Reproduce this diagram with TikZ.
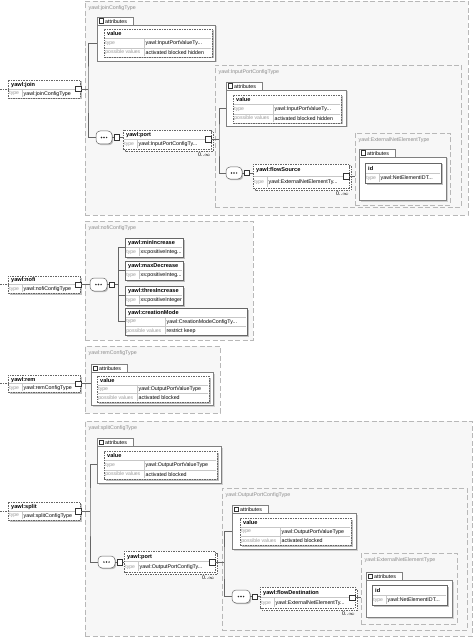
\documentclass[tikz,border=0pt]{standalone}
\usepackage{fontspec}
\setmainfont{Liberation Sans}
\usetikzlibrary{fit}
\newif\ifstk
\tikzset{
 tbox/.style={draw=black!28, dash pattern=on 5pt off 2.5pt, fill=black!3, line width=0.5pt},
 tlabel/.style={font=\fontsize{5.3}{6}\selectfont, text=black!45, inner sep=0pt, anchor=west},
 optel/.style={draw=black!60, dash pattern=on 1.5pt off 1pt, fill=white, line width=0.45pt},
 reqel/.style={draw=black!60, fill=white, line width=0.5pt},
 shadowc/.style={fill=black!25},
 nm/.style={font=\bfseries\fontsize{5.6}{6}\selectfont, inner sep=0pt, anchor=west},
 tt/.style={font=\fontsize{5.3}{6}\selectfont, inner sep=0pt, anchor=west},
 gl/.style={font=\fontsize{5.1}{6}\selectfont, text=black!40, inner sep=0pt, anchor=west},
 cell/.style={draw=black!22, line width=0.3pt},
 abox/.style={draw=black!50, fill=white, line width=0.5pt},
 conn/.style={draw=black!60, line width=0.5pt},
 rootln/.style={draw=black!60, line width=0.5pt, dash pattern=on 1.5pt off 1pt},
 xsq/.style={draw=black!80, fill=white, line width=0.5pt, minimum size=5.5pt, inner sep=0pt},
 mult/.style={font=\fontsize{5.3}{6}\selectfont, inner sep=0pt},
}
% two-row element: style, id, x1,y1,x2,y2, title, type
\newcommand\elemtwo[8][optel]{%
 \pgfmathsetmacro\ym{(#4+#6)/2}%
 \pgfmathsetmacro\yt{(#4+\ym)/2+0.3}%
 \pgfmathsetmacro\yb{(\ym+#6)/2+0.3}%
 \pgfmathsetmacro\xd{#3+14}%
 \fill[shadowc] (#3+1.5,#4+1.5) rectangle (#5+1.5,#6+1.5);
 \ifstk \draw[optel] (#3+2,#4+2.5) rectangle (#5+2,#6+2.5); \fi
 \node[#1, fit={(#3,#4) (#5,#6)}, inner sep=0pt] (#2) {};
 \draw[cell] (#3+1,\ym) -- (#5-1,\ym) (\xd,\ym) -- (\xd,#6-1);
 \node[nm] (#2-n) at (#3+3,\yt) {#7};
 \node[gl] (#2-tl) at (#3+1.2,\yb) {type};
 \node[tt] (#2-tv) at (\xd+1.5,\yb) {#8};
}
% three-row element: style, id, x1,y1,x2,y2, title, type, possible values
\newcommand\elemthree[9][optel]{%
 \pgfmathsetmacro\ya{#4+(#6-#4)/3}%
 \pgfmathsetmacro\yc{#4+2*(#6-#4)/3}%
 \pgfmathsetmacro\yt{(#4+\ya)/2+0.3}%
 \pgfmathsetmacro\yb{(\ya+\yc)/2+0.3}%
 \pgfmathsetmacro\yp{(\yc+#6)/2+0.3}%
 \pgfmathsetmacro\xd{#3+40}%
 \fill[shadowc] (#3+1.5,#4+1.5) rectangle (#5+1.5,#6+1.5);
 \node[#1, fit={(#3,#4) (#5,#6)}, inner sep=0pt] (#2) {};
 \draw[cell] (#3+1,\ya) -- (#5-1,\ya) (#3+1,\yc) -- (#5-1,\yc) (\xd,\ya) -- (\xd,#6-1);
 \node[nm] (#2-n) at (#3+3,\yt) {#7};
 \node[gl] (#2-tl) at (#3+1.2,\yb) {type};
 \node[tt] (#2-tv) at (\xd+1.5,\yb) {#8};
 \node[gl] (#2-pl) at (#3+1.2,\yp) {possible values};
 \node[tt] (#2-pv) at (\xd+1.5,\yp) {#9};
}
% attributes group: id, x1,y1,x2,y2
\newcommand\attrb[5]{%
 \fill[black!18] (#2+1.5,#3+1.5) rectangle (#4+1.5,#5+1.5);
 \draw[abox] (#2,#3-8) rectangle (#2+36,#3);
 \node[abox, fit={(#2,#3) (#4,#5)}, inner sep=0pt] (#1) {};
 \node[xsq, minimum size=4.5pt] (#1-cb) at (#2+4,#3-4) {};
 \node[tt] (#1-lb) at (#2+8,#3-3.8) {attributes};
}
% type group box: id, x1,y1,x2,y2, label
\newcommand\tgroup[6]{%
 \node[tbox, fit={(#2,#3) (#4,#5)}, inner sep=0pt] (#1) {};
 \node[tlabel] (#1-lb) at (#2+3.5,#3+7) {#6};
}
% sequence compositor: id, x1,y1,x2,y2
\newcommand\seqc[5]{%
 \fill[black!25, rounded corners=4pt] (#2+1.2,#3+1.2) rectangle (#4+1.2,#5+1.2);
 \node[draw=black!60, fill=white, line width=0.5pt, rounded corners=4pt, fit={(#2,#3) (#4,#5)}, inner sep=0pt] (#1) {};
 \foreach \d in {-2.6,0,2.6} \fill[black!85] (#1.center) ++(\d,0) circle (0.85);
 \node[xsq] (#1x) at (#4+4.5,{(#3+#5)/2}) {};
 \draw[conn] (#1.east) -- (#1x.west);
}
\begin{document}
\begin{tikzpicture}[x=1pt,y=-1pt]
\useasboundingbox (0,0) rectangle (474,639);
\fill[white] (0,0) rectangle (474,639);

% ================= join =================
\tgroup{jtype}{85}{1}{468}{215}{yawl:joinConfigType}
\tgroup{iptype}{215}{65}{461}{207}{yawl:InputPortConfigType}
\tgroup{ext1}{355}{133}{450}{205}{yawl:ExternalNetElementType}

\coordinate (jl) at (0,89);
\elemtwo{join}{8}{80}{80}{98}{yawl:join}{yawl:joinConfigType}
\node[xsq] (joinx) at (78,89) {};
\draw[rootln] (jl) -- (join.west);

\attrb{jattr}{97}{25}{215}{61}
\elemthree{jval}{104}{29}{212}{57}{value}{yawl:InputPortValueTy...}{activated blocked hidden}

\seqc{jseq}{96}{131}{112}{144}
\stktrue
\elemtwo{jport}{123}{130}{211}{149}{yawl:port}{yawl:InputPortConfigTy...}
\stkfalse
\node[xsq] (jportx) at (208,139.5) {};
\node[mult, anchor=north east] (jm) at (211,152.5) {0..$\infty$};

\coordinate (jb) at (88,89);
\draw[conn] (joinx.east) -- (jb);
\draw[conn] (jattr.west) -| (jb) |- (jseq.west);
\draw[conn] (jseqx.east) -- (jseqx.east -| jport.west);

\attrb{ipattr}{226}{90}{346}{126}
\elemthree{ipval}{233}{95}{341}{123}{value}{yawl:InputPortValueTy...}{activated blocked hidden}
\seqc{ipseq}{226}{167}{242}{179}
\stktrue
\elemtwo{fsrc}{253}{164}{349}{188}{yawl:flowSource}{yawl:ExternalNetElementTy...}
\stkfalse
\node[xsq] (fsrcx) at (346,176) {};
\node[mult, anchor=north east] (fsm) at (349,191.5) {0..$\infty$};

\coordinate (jpb) at (219,139.5);
\draw[conn] (jportx.east) -- (jpb);
\draw[conn] (ipattr.west) -| (jpb) |- (ipseq.west);
\draw[conn] (ipseqx.east) -- (ipseqx.east -| fsrc.west);
\draw[conn] (fsrcx.east) -- (fsrcx.east -| ext1.west);

\attrb{e1attr}{359}{157}{446}{200}
\elemtwo[reqel]{id1}{365}{163}{441}{183}{id}{yawl:NetElementIDT...}

% ================= nofi =================
\tgroup{ntype}{85}{221}{253}{340}{yawl:nofiConfigType}
\coordinate (nl) at (0,284.5);
\elemtwo{nofi}{8}{276}{80}{293}{yawl:nofi}{yawl:nofiConfigType}
\node[xsq] (nofix) at (78,284.5) {};
\draw[rootln] (nl) -- (nofi.west);
\seqc{nseq}{90}{278}{107}{291}
\draw[conn] (nofix.east) -- (nseq.west);

\elemtwo[reqel]{minI}{125}{238}{183}{257}{yawl:minIncrease}{xs:positiveInteg...}
\elemtwo[reqel]{maxD}{125}{261}{183}{280}{yawl:maxDecrease}{xs:positiveInteg...}
\elemtwo[reqel]{thrI}{125}{286}{183}{305}{yawl:thresIncrease}{xs:positiveInteger}
\elemthree[reqel]{crM}{125}{308}{247}{335}{yawl:creationMode}{yawl:CreationModeConfigTy...}{restrict keep}

\coordinate (nb) at (118,284.5);
\draw[conn] (nseqx.east) -- (nb);
\foreach \c in {minI,maxD,thrI,crM} \draw[conn] (nb) |- (\c.west);

% ================= rem =================
\tgroup{rtype}{85}{346}{220}{413}{yawl:remConfigType}
\coordinate (rl) at (0,383.5);
\elemtwo{rem}{8}{375}{80}{392}{yawl:rem}{yawl:remConfigType}
\node[xsq] (remx) at (78,383.5) {};
\draw[rootln] (rl) -- (rem.west);
\attrb{rattr}{91}{372}{213}{405}
\elemthree{rval}{97}{376}{209}{402}{value}{yawl:OutputPortValueType}{activated blocked}
\draw[conn] (remx.east) -- (remx.east -| rattr.west);

% ================= split =================
\tgroup{stype}{85}{421}{472}{636}{yawl:splitConfigType}
\tgroup{optype}{222}{488}{467}{630}{yawl:OutputPortConfigType}
\tgroup{ext2}{361}{553}{457}{624}{yawl:ExternalNetElementType}

\coordinate (sl) at (0,511);
\elemtwo{split}{8}{502}{80}{520}{yawl:split}{yawl:splitConfigType}
\node[xsq] (splitx) at (78,511) {};
\draw[rootln] (sl) -- (split.west);

\attrb{sattr}{97}{446}{221}{483}
\elemthree{sval}{104}{451}{217}{479}{value}{yawl:OutputPortValueType}{activated blocked}
\seqc{sseq}{98}{556}{115}{568}
\stktrue
\elemtwo{sport}{124}{551}{215}{572}{yawl:port}{yawl:OutputPortConfigTy...}
\stkfalse
\node[xsq] (sportx) at (212,562) {};
\node[mult, anchor=north east] (spm) at (215,575.5) {0..$\infty$};

\coordinate (sb) at (90,511);
\draw[conn] (splitx.east) -- (sb);
\draw[conn] (sattr.west) -| (sb) |- (sseq.west);
\draw[conn] (sseqx.east) -- (sseqx.east -| sport.west);

\attrb{opattr}{232}{513}{356}{549}
\elemthree{opval}{240}{518}{351}{545}{value}{yawl:OutputPortValueType}{activated blocked}
\seqc{opseq}{232}{590}{250}{603}
\stktrue
\elemtwo{fdst}{260}{587}{355}{608}{yawl:flowDestination}{yawl:ExternalNetElementTy...}
\stkfalse
\node[xsq] (fdstx) at (352,597.5) {};
\node[mult, anchor=north east] (fdm) at (355,611.5) {0..$\infty$};

\coordinate (spb) at (224,562);
\draw[conn] (sportx.east) -- (spb);
\draw[conn] (opattr.west) -| (spb) |- (opseq.west);
\draw[conn] (opseqx.east) -- (opseqx.east -| fdst.west);
\draw[conn] (fdstx.east) -- (fdstx.east -| ext2.west);

\attrb{e2attr}{366}{580}{452}{617}
\elemtwo[reqel]{id2}{372}{585}{447}{605}{id}{yawl:NetElementIDT...}
\end{tikzpicture}
\end{document}
